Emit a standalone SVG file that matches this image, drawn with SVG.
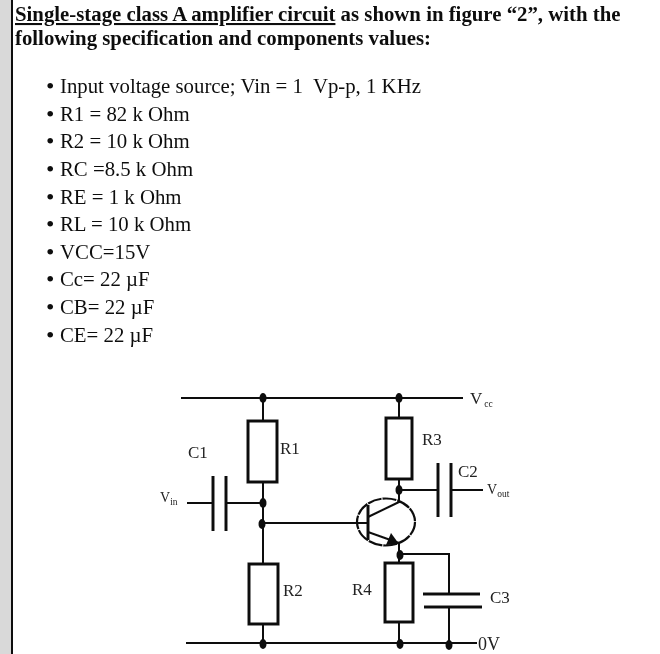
<svg xmlns="http://www.w3.org/2000/svg" width="660" height="654" viewBox="0 0 660 654">
<style>
text{font-family:"Liberation Serif","Times New Roman",serif;fill:#111;white-space:pre}
.h{font-size:20.8px;font-weight:bold}
.b{font-size:20.8px}
.u{font-size:24px}
.l{font-size:17px;fill:#222}
.m{font-size:14px;fill:#222}
.s{font-size:9.5px;fill:#222}
.w{fill:none;stroke:#111;stroke-width:2}
.r{fill:#fff;stroke:#111;stroke-width:3}
.p{fill:none;stroke:#111;stroke-width:3}
.d{fill:#111}
</style>
<defs><filter id="soft" x="0" y="0" width="100%" height="100%"><feGaussianBlur stdDeviation="0.35"/></filter></defs>
<rect width="660" height="654" fill="#fff"/>
<g filter="url(#soft)">
<rect id="margin" x="0" y="0" width="11" height="654" fill="#d9d9d9"/>
<rect id="rule" x="11" y="0" width="2" height="654" fill="#111"/>
<g id="heading">
<text class="h" x="15" y="21"><tspan text-decoration="underline">Single-stage class A amplifier circuit</tspan> as shown in figure “2”, with the</text>
<text class="h" x="15" y="45">following specification and components values:</text>
</g>
<g id="spec">
<text class="b" x="46" y="93"><tspan class="u" dy="1">•</tspan><tspan x="60" dy="-1">Input voltage source; Vin = 1  Vp-p, 1 KHz</tspan></text>
<text class="b" x="46" y="121"><tspan class="u" dy="1">•</tspan><tspan x="60" dy="-1">R1 = 82 k Ohm</tspan></text>
<text class="b" x="46" y="148"><tspan class="u" dy="1">•</tspan><tspan x="60" dy="-1">R2 = 10 k Ohm</tspan></text>
<text class="b" x="46" y="176"><tspan class="u" dy="1">•</tspan><tspan x="60" dy="-1">RC =8.5 k Ohm</tspan></text>
<text class="b" x="46" y="204"><tspan class="u" dy="1">•</tspan><tspan x="60" dy="-1">RE = 1 k Ohm</tspan></text>
<text class="b" x="46" y="231"><tspan class="u" dy="1">•</tspan><tspan x="60" dy="-1">RL = 10 k Ohm</tspan></text>
<text class="b" x="46" y="259"><tspan class="u" dy="1">•</tspan><tspan x="60" dy="-1">VCC=15V</tspan></text>
<text class="b" x="46" y="286"><tspan class="u" dy="1">•</tspan><tspan x="60" dy="-1">Cc= 22 µF</tspan></text>
<text class="b" x="46" y="314"><tspan class="u" dy="1">•</tspan><tspan x="60" dy="-1">CB= 22 µF</tspan></text>
<text class="b" x="46" y="342"><tspan class="u" dy="1">•</tspan><tspan x="60" dy="-1">CE= 22 µF</tspan></text>
</g>
<g id="connectors">
<path class="w" d="M181 398H463"/>
<path class="w" d="M186 643H477"/>
<path class="w" d="M263 398V421M263 482V564M263 624V643"/>
<path class="w" d="M187 503H213M226 503H263"/>
<path class="w" d="M262 523H368"/>
<path class="w" d="M399 398V418M399 479V502L368 517"/>
<path class="w" d="M399 490H438M451 490H483"/>
<path class="w" d="M368 532L399 543V563M399 622V643"/>
<path class="w" d="M400 554H449V594M449 607V643"/>
</g>
<g id="junctions">
<ellipse class="d" cx="263" cy="398" rx="3.5" ry="5"/>
<ellipse class="d" cx="263" cy="503" rx="3.5" ry="5"/>
<ellipse class="d" cx="262" cy="524" rx="3.5" ry="5"/>
<ellipse class="d" cx="263" cy="644" rx="3.5" ry="5"/>
<ellipse class="d" cx="399" cy="398" rx="3.5" ry="5"/>
<ellipse class="d" cx="399" cy="490" rx="3.5" ry="5"/>
<ellipse class="d" cx="400" cy="555" rx="3.5" ry="5"/>
<ellipse class="d" cx="400" cy="644" rx="3.5" ry="5"/>
<ellipse class="d" cx="449" cy="645" rx="3.5" ry="5"/>
</g>
<g id="R1"><rect class="r" x="248" y="421" width="29" height="61"/><text class="l" x="280" y="454">R1</text></g>
<g id="R2"><rect class="r" x="249" y="564" width="29" height="60"/><text class="l" x="283" y="596">R2</text></g>
<g id="R3"><rect class="r" x="386" y="418" width="26" height="61"/><text class="l" x="422" y="445">R3</text></g>
<g id="R4"><rect class="r" x="385" y="563" width="28" height="59"/><text class="l" x="352" y="595">R4</text></g>
<g id="C1"><path class="p" d="M213 476V531M226 476V531"/><text class="l" x="188" y="458">C1</text></g>
<g id="C2"><path class="p" d="M438 463V517M451 463V517"/><text class="l" x="458" y="477">C2</text></g>
<g id="C3"><path class="p" d="M423 594H480M424 607H482"/><text class="l" x="490" y="603">C3</text></g>
<g id="Q1">
<ellipse cx="386" cy="522" rx="29" ry="23.5" fill="none" stroke="#111" stroke-width="2.2" stroke-dasharray="14 1"/>
<path class="p" d="M368 505V540"/>
<path class="d" d="M391 533L386 545L399 544Z"/>
</g>
<g id="Vin"><text class="m" x="160" y="502">V<tspan class="s" dy="3">in</tspan></text></g>
<g id="Vcc"><text class="l" x="470" y="404">V<tspan class="s" dy="3" dx="2">cc</tspan></text></g>
<g id="Vout"><text class="m" x="487" y="494">V<tspan class="s" dy="3">out</tspan></text></g>
<g id="Gnd"><text class="l" x="478" y="650" style="font-size:18px">0V</text></g>
</g>
</svg>
